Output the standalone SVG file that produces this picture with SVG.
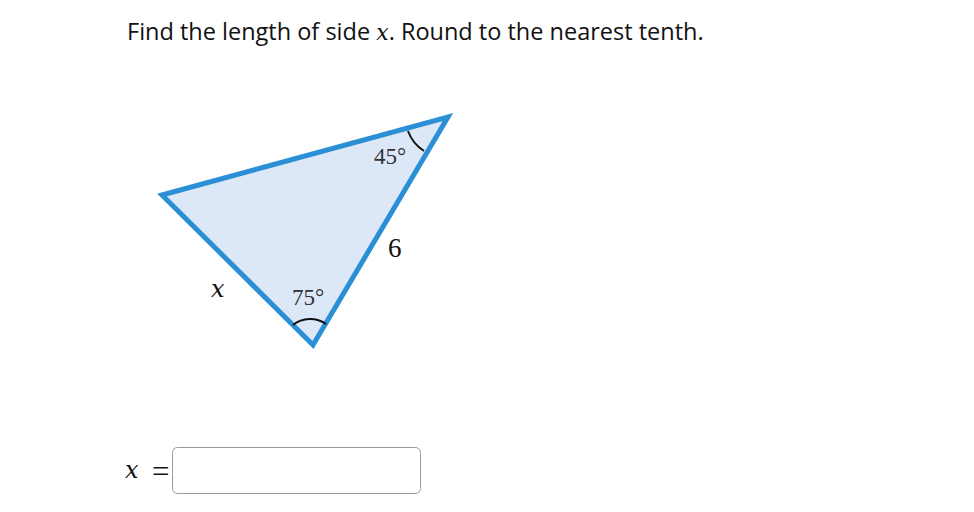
<svg xmlns="http://www.w3.org/2000/svg" width="974" height="512" viewBox="0 0 974 512">
<style>
.title{font-family:"Open Sans","Liberation Sans",sans-serif;font-size:23.5px;fill:#111}
.lbl{font-family:"Liberation Serif",serif;font-size:23px;fill:#333}
.big{font-family:"Liberation Serif",serif;font-size:27px;fill:#111}
.eq{font-family:"Liberation Serif",serif;font-size:31px;fill:#111}
.var{font-family:"DejaVu Serif",serif;font-style:italic;font-size:24px;fill:#111}
.arc{fill:none;stroke:#111;stroke-width:2}
</style>
<rect width="974" height="512" fill="#fff"/>
<text class="title" x="127" y="40">Find the length of side <tspan style="font-family:'DejaVu Serif',serif;font-style:italic;font-size:22px">x</tspan>. Round to the nearest tenth.</text>
<g id="triangle">
<polygon points="162,195 448,117 313,345" fill="#dce8f7" stroke="#2b8fd5" stroke-width="5" stroke-linejoin="miter"/>
</g>
<g id="angles">
<path class="arc" d="M408,131 A40,40 0 0 0 424,151"/>
<path class="arc" d="M293,325 A28,28 0 0 1 326,324"/>
</g>
<g id="labels">
<text class="lbl" x="374" y="164">45°</text>
<text class="lbl" x="292" y="305">75°</text>
<text class="big" x="388" y="257">6</text>
<text class="var" x="211" y="297">x</text>
</g>
<g id="answer">
<text class="var" x="125" y="478">x</text>
<text class="eq" x="152" y="482">=</text>
<rect x="172.5" y="447.5" width="248" height="46" rx="5" fill="#fff" stroke="#999" stroke-width="1"/>
</g>
</svg>
